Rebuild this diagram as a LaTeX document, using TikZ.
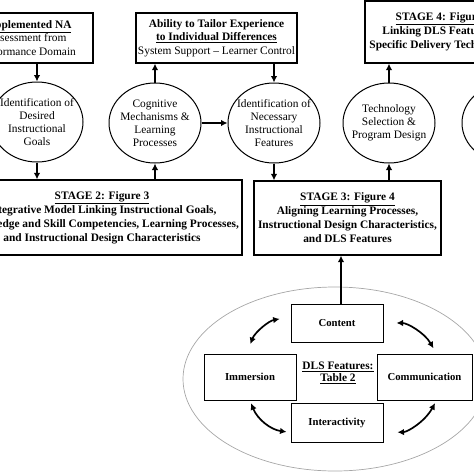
\documentclass[tikz,border=0pt]{standalone}
\usepackage{fontspec}
\setmainfont{Liberation Serif}
\usetikzlibrary{shapes,arrows.meta,positioning}

\begin{document}
\begin{tikzpicture}[x=1pt,y=1pt,
    phase/.style={ellipse, draw, line width=1pt, minimum width=92pt, minimum height=80pt,
        inner xsep=-8pt, inner ysep=0pt, align=center, font=\fontsize{11.4}{13}\selectfont},
    stagebox/.style={draw, line width=1.2pt, align=center, inner sep=0pt,
        font=\bfseries\fontsize{11.4}{14}\selectfont},
    featbox/.style={draw, line width=1pt, inner sep=0pt, minimum width=92pt,
        font=\bfseries\fontsize{10.7}{13}\selectfont},
    flow/.style={line width=1.7pt, -{Latex[length=6.5pt,width=6.5pt]}},
    ringarrow/.style={line width=1.7pt, {Latex[length=6.5pt,width=6.5pt]}-{Latex[length=6.5pt,width=6.5pt]}}]
            \useasboundingbox (0,0) rectangle (474,-474);
            \clip (0,0) rectangle (474,-474);

            \node[stagebox, minimum width=132pt, minimum height=50pt, font=\fontsize{11.4}{13.5}\selectfont] (na) at (27,-38)
                {\textbf{\underline{Supplemented NA}}\\Assessment from\\Performance Domain};
            \node[stagebox, minimum width=161pt, minimum height=50pt, font=\fontsize{11.4}{13.5}\selectfont] (tailor) at (216.5,-38)
                {\textbf{Ability to Tailor Experience}\\\textbf{\underline{to Individual Differences}}\\System Support -- Learner Control};
            \node[stagebox, minimum width=156pt, minimum height=62pt] (stage4) at (443,-32)
                {\underline{STAGE 4: Figure 5}\\Linking DLS Features to\\Specific Delivery Technologies};

            \node[phase] (goals) at (37,-122) {Identification of\\Desired\\Instructional\\Goals};
            \node[phase] (cognitive) at (155,-123) {Cognitive\\Mechanisms \&\\Learning\\Processes};
            \node[phase] (features) at (274,-123) {Identification of\\Necessary\\Instructional\\Features};
            \node[phase] (technology) at (389,-123) {Technology\\Selection \&\\Program Design};
            \node[phase] (nextphase) at (508,-123) {};

            \node[stagebox, minimum width=280pt, minimum height=75pt] (stage2) at (102,-217.5)
                {\underline{STAGE 2: Figure 3}\\Integrative Model Linking Instructional Goals,\\Knowledge and Skill Competencies, Learning Processes,\\and Instructional Design Characteristics};
            \node[stagebox, minimum width=187pt, minimum height=74pt] (stage3) at (347.5,-218)
                {\underline{STAGE 3: Figure 4}\\Aligning Learning Processes,\\Instructional Design Characteristics,\\and DLS Features};

            \node[ellipse, draw=gray!70, line width=0.7pt, minimum width=304pt, minimum height=184pt] (dlsarea) at (335,-379) {};
            \node[featbox, minimum height=38pt] (content) at (337,-323) {Content};
            \node[featbox, minimum height=46pt] (immersion) at (250,-377) {Immersion};
            \node[featbox, minimum width=95pt, minimum height=46pt] (communication) at (424.5,-377) {Communication};
            \node[featbox, minimum height=39pt] (interactivity) at (337,-422.5) {Interactivity};
            \node[font=\bfseries\fontsize{11.4}{12}\selectfont, align=center] (dlslabel) at (338,-373)
                {\underline{DLS Features:}\\\underline{Table 2}};

            \draw[flow] (na.south -| goals.north) -- (goals.north);
            \draw[flow] (cognitive.north) -- (cognitive.north |- tailor.south);
            \draw[flow] (tailor.south -| features.north) -- (features.north);
            \draw[flow] (cognitive) -- (features);
            \draw[flow] (technology.north) -- (technology.north |- stage4.south);
            \draw[flow] (goals.south) -- (goals.south |- stage2.north);
            \draw[flow] (stage2.north -| cognitive.south) -- (cognitive.south);
            \draw[flow] (features.south) -- (features.south |- stage3.north);
            \draw[flow] (stage3.north -| technology.south) -- (technology.south);
            \draw[flow] ([xshift=4pt]content.north) -- ([xshift=4pt]content.north |- stage3.south);

            \draw[ringarrow, shorten <=11pt, shorten >=10pt] ([yshift=6pt]content.west) to[bend right=30] ([xshift=-3pt]immersion.north);
            \draw[ringarrow, shorten <=13pt, shorten >=6pt] (content.east) to[bend left=30] ([xshift=12pt]communication.north);
            \draw[ringarrow, shorten <=3pt, shorten >=4pt] (immersion.south) to[bend right=30] ([yshift=-10pt]interactivity.west);
            \draw[ringarrow, shorten <=3pt, shorten >=14pt] ([xshift=12pt]communication.south) to[bend left=30] ([yshift=-10pt]interactivity.east);
\end{tikzpicture}
\end{document}
